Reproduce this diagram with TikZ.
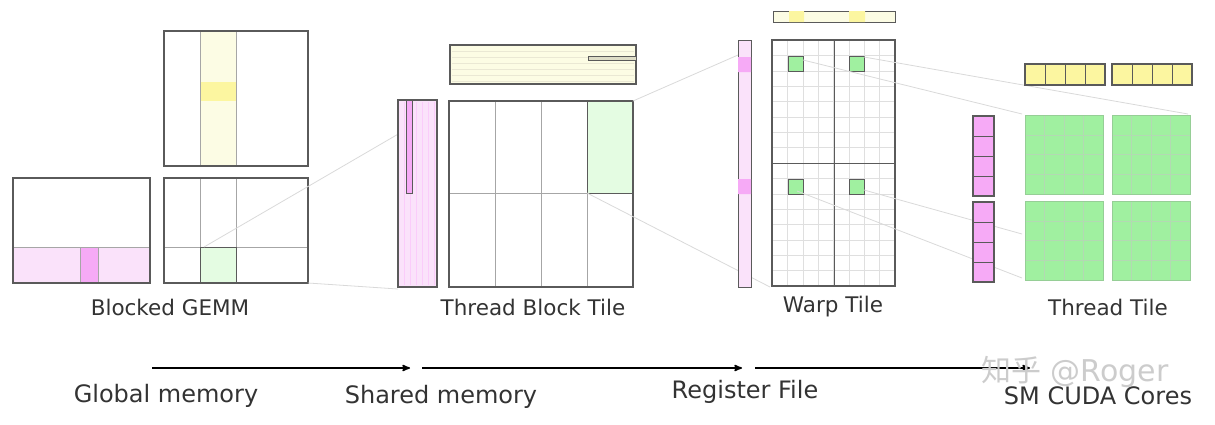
\documentclass[tikz,border=0pt]{standalone}
\usepackage{fontspec}
\setmainfont{DejaVu Sans}
\newfontfamily\cjkfont{Noto Sans CJK SC}
\usetikzlibrary{arrows, positioning, calc}
\definecolor{boxgray}{RGB}{90,90,90}
\definecolor{lightyel}{RGB}{252,252,228}
\definecolor{yel}{RGB}{252,246,160}
\definecolor{lightpink}{RGB}{250,226,250}
\definecolor{pink}{RGB}{246,170,246}
\definecolor{lightgreen}{RGB}{228,252,226}
\definecolor{green}{RGB}{160,240,160}
\begin{document}
\begin{tikzpicture}[x=1pt, y=-1pt,
  mat/.style={draw=boxgray, line width=1.2pt},
  thin line/.style={draw=gray!70, line width=0.6pt},
  proj/.style={draw=gray!30, line width=0.8pt},
  cell/.style={draw=boxgray, line width=1pt},
  lbl/.style={font=\fontsize{21.5}{26}\selectfont, text=black!80},
  mem/.style={font=\fontsize{24}{28}\selectfont, text=black!80},
  flow/.style={->, >=stealth', line width=1.6pt}]
  \useasboundingbox (0,0) rectangle (1215,424);
  % Blocked GEMM
  \fill[lightyel] (200,31) rectangle (236,166);
  \fill[yel] (200,82) rectangle (236,101);
  \draw[thin line] (200,31) -- (200,166) (236,31) -- (236,166);
  \draw[mat] (164,31) rectangle (308,166);
  \fill[lightpink] (13,247) rectangle (150,283);
  \fill[pink] (80,247) rectangle (98,283);
  \draw[thin line] (13,247) -- (150,247) (80,247) -- (80,283) (98,247) -- (98,283);
  \draw[mat] (13,178) rectangle (150,283);
  \draw[thin line] (200,178) -- (200,283) (236,178) -- (236,283) (164,247) -- (308,247);
  \draw[cell, fill=lightgreen] (200,247) rectangle (236,283);
  \draw[mat] (164,178) rectangle (308,283);
  \node[lbl] (gemm) at (170,307) {Blocked GEMM};
  % projection to thread block
  \draw[proj] (204,247) -- (400,133) (308,283) -- (398,289);
  % Thread block tile
  \draw[mat, fill=lightyel] (450,45) rectangle (636,84);
  \foreach \y in {51,57,...,81} \draw[draw=yel!60!gray!40, line width=0.4pt] (452,\y) -- (634,\y);
  \draw[cell, fill=yel!50!gray!50, line width=0.8pt] (588,56) rectangle (636,60);
  \draw[mat, fill=lightpink] (398,100) rectangle (437,287);
  \foreach \x in {404,410,...,434} \draw[draw=pink!60, line width=0.4pt] (\x,102) -- (\x,285);
  \draw[cell, fill=pink, line width=0.8pt] (406,100) rectangle (412,193);
  \draw[thin line] (495,101) -- (495,287) (541,101) -- (541,287) (587,101) -- (587,287) (449,193) -- (633,193);
  \draw[cell, fill=lightgreen] (587,101) rectangle (633,193);
  \draw[mat] (449,101) rectangle (633,287);
  \node[lbl] (tbtile) at (533,307) {Thread Block Tile};
  % projection to warp
  \draw[proj] (633,101) -- (738,55) (587,193) -- (770,287);
  % Warp tile
  \draw[mat, fill=lightyel, line width=0.8pt] (773,11) rectangle (895,22);
  \fill[yel] (789,11) rectangle (804,22) (849,11) rectangle (865,22);
  \draw[mat, fill=lightpink, line width=0.8pt] (738,40) rectangle (751,287);
  \fill[pink] (738,57) rectangle (751,72) (738,179) rectangle (751,194);
  \foreach \i in {1,...,15} \draw[draw=gray!25, line width=0.4pt] (772,{40+\i*15.375}) -- (895,{40+\i*15.375});
  \foreach \i in {1,...,7} \draw[draw=gray!25, line width=0.4pt] ({772+\i*15.375},40) -- ({772+\i*15.375},286);
  \draw[thin line, draw=boxgray] (834,40) -- (834,286) (772,163) -- (895,163);
  \foreach \x in {788,849} \foreach \y in {56,179}
    \draw[cell, fill=green] (\x,\y) rectangle ++(15,15);
  \draw[mat] (772,40) rectangle (895,286);
  \node[lbl] (warptile) at (833,307) {Warp Tile};
  % projection to thread tile
  \draw[proj] (803,60) -- (1022,114) (864,57) -- (1188,114) (797,191) -- (1022,278) (864,190) -- (1022,234);
  % Thread tile
  \foreach \x in {1025,1112} {
    \draw[mat, fill=yel] (\x,64) rectangle ++(80,21);
    \foreach \i in {1,2,3} \draw[cell] ({\x+\i*20},64) -- ++(0,21);
  }
  \foreach \y in {116,202} {
    \draw[mat, fill=pink] (973,\y) rectangle ++(21,80);
    \foreach \i in {1,2,3} \draw[cell] (973,{\y+\i*20}) -- ++(21,0);
  }
  \foreach \x in {1025,1112} \foreach \y in {115,201} {
    \fill[green] (\x,\y) rectangle ++(78,79);
    \foreach \i in {1,2,3} \draw[draw=green!80!black!60, line width=0.4pt] ({\x+\i*19.5},\y) -- ++(0,79) (\x,{\y+\i*19.75}) -- ++(78,0);
    \draw[draw=green!70!gray, line width=0.8pt] (\x,\y) rectangle ++(78,79);
  }
  \node[lbl] (ttile) at (1108,307) {Thread Tile};
  % memory levels
  \coordinate (a1) at (152,368); \coordinate (a2) at (410,368);
  \coordinate (b1) at (422,368); \coordinate (b2) at (742,368);
  \coordinate (c1) at (755,368); \coordinate (c2) at (1030,368);
  \draw[flow] (a1) -- (a2);
  \draw[flow] (b1) -- (b2);
  \draw[flow] (c1) -- (c2);
  \node[mem] (gmem) at (166,396) {Global memory};
  \node[mem] (smem) at (441,397) {Shared memory};
  \node[mem] (regf) at (745,392) {Register File};
  \node[mem] (cores) at (1098,396) {SM CUDA Cores};
  \node[font=\fontsize{30}{34}\selectfont, text=gray!40] (mark) at (1075,372) {{\cjkfont 知乎} @Roger};
\end{tikzpicture}
\end{document}
